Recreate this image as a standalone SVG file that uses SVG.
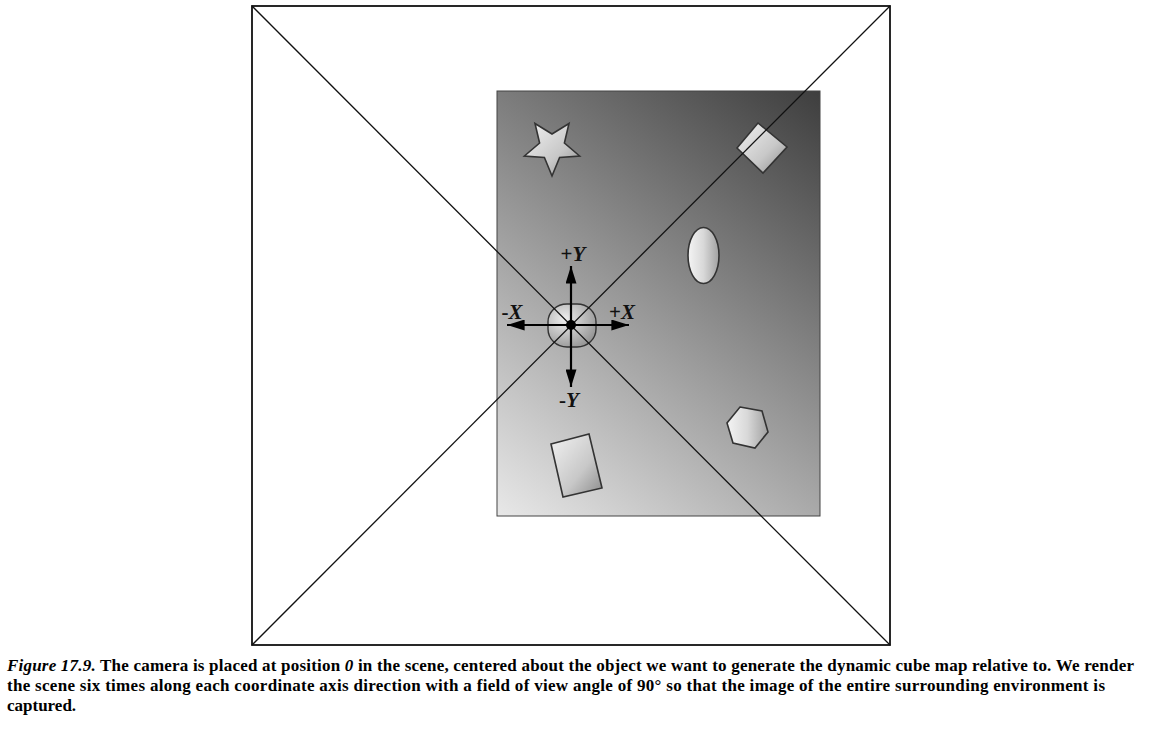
<svg xmlns="http://www.w3.org/2000/svg" width="1152" height="729" viewBox="0 0 1152 729">
<style>
.frame{fill:none;stroke:#111;stroke-width:1.8}
.diag{fill:none;stroke:#111;stroke-width:1.3}
.obj{stroke:#333;stroke-width:1.6}
.axis{stroke:#000;stroke-width:2.2;fill:none}
.lbl{font-family:"Liberation Serif",serif;font-weight:bold;font-size:21px;fill:#111;text-anchor:middle}
.cap{font-family:"Liberation Serif",serif;font-weight:bold;font-size:17px;fill:#000}
</style>
<defs>
<linearGradient id="bg" gradientUnits="userSpaceOnUse" x1="497" y1="516" x2="820" y2="91">
<stop offset="0" stop-color="#e8e8e8"/>
<stop offset="1" stop-color="#3e3e3e"/>
</linearGradient>
<linearGradient id="shine" x1="0" y1="0" x2="1" y2="1">
<stop offset="0" stop-color="#f2f2f2"/>
<stop offset="0.6" stop-color="#c8c8c8"/>
<stop offset="1" stop-color="#8a8a8a"/>
</linearGradient>
<linearGradient id="shine2" x1="0" y1="0" x2="1" y2="0">
<stop offset="0" stop-color="#f4f4f4"/>
<stop offset="0.5" stop-color="#d8d8d8"/>
<stop offset="1" stop-color="#a0a0a0"/>
</linearGradient>
<radialGradient id="ball" cx="0.35" cy="0.35" r="0.8">
<stop offset="0" stop-color="#eeeeee"/>
<stop offset="1" stop-color="#8c8c8c"/>
</radialGradient>
<marker id="ah" viewBox="0 0 16 10" refX="16" refY="5" markerWidth="8" markerHeight="5" markerUnits="strokeWidth" orient="auto">
<path d="M0,0 L16,5 L0,10 Z" fill="#000"/>
</marker>
</defs>
<rect width="1152" height="729" fill="#fff"/>
<g id="scene">
<rect x="497" y="91" width="323" height="425" fill="url(#bg)" stroke="#444" stroke-width="1"/>
</g>
<g id="star"><polygon class="obj" fill="url(#shine)" points="552,176 559.6,157.5 579.6,156 564.4,143 569,123.5 552,134 535,123.5 539.6,143 524.4,156 544.4,157.5"/></g>
<g id="diamond"><polygon class="obj" fill="url(#shine)" points="737,148 758,123 787,147 763,173"/></g>
<g id="ellipse"><ellipse class="obj" fill="url(#shine2)" cx="703.5" cy="255.5" rx="15.5" ry="28"/></g>
<g id="hexagon"><polygon class="obj" fill="url(#shine2)" points="740,407 762,411 768,432 755,448 733,443 727,423"/></g>
<g id="box"><polygon class="obj" fill="url(#shine)" points="551,444 589,434 602,488 563,497"/></g>
<g id="camera">
<rect x="548" y="304" width="48" height="43" rx="19" ry="18" fill="url(#ball)" stroke="#333" stroke-width="1.4"/>
</g>
<g id="connectors">
<rect class="frame" x="252" y="6" width="638" height="639"/>
<line class="diag" x1="252" y1="6" x2="890" y2="645"/>
<line class="diag" x1="890" y1="6" x2="252" y2="645"/>
<line class="axis" x1="571" y1="325" x2="571" y2="266" marker-end="url(#ah)"/>
<line class="axis" x1="571" y1="325" x2="571" y2="387" marker-end="url(#ah)"/>
<line class="axis" x1="571" y1="325" x2="507" y2="325" marker-end="url(#ah)"/>
<line class="axis" x1="571" y1="325" x2="629" y2="325" marker-end="url(#ah)"/>
<circle cx="571" cy="325" r="5" fill="#000"/>
</g>
<g id="labels">
<text class="lbl" x="573" y="261">+<tspan font-style="italic">Y</tspan></text>
<text class="lbl" x="569" y="407">-<tspan font-style="italic">Y</tspan></text>
<text class="lbl" x="512" y="319">-<tspan font-style="italic">X</tspan></text>
<text class="lbl" x="622" y="319">+<tspan font-style="italic">X</tspan></text>
</g>
<g id="caption">
<text class="cap" x="7" y="671" textLength="1127" lengthAdjust="spacing"><tspan font-style="italic">Figure 17.9.</tspan> The camera is placed at position <tspan font-style="italic">0</tspan> in the scene, centered about the object we want to generate the dynamic cube map relative to. We render</text>
<text class="cap" x="7" y="691" textLength="1098" lengthAdjust="spacing">the scene six times along each coordinate axis direction with a field of view angle of 90° so that the image of the entire surrounding environment is</text>
<text class="cap" x="7" y="711">captured.</text>
</g>
</svg>
